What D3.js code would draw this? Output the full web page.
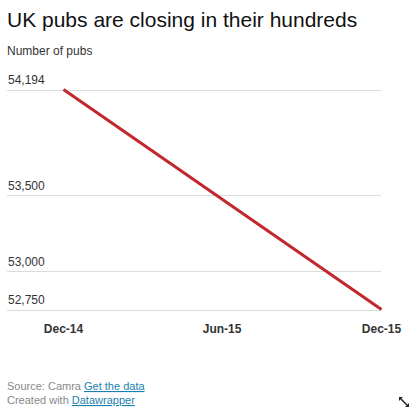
<!DOCTYPE html>
<html lang="en"><head><meta charset="UTF-8"><title>UK pubs are closing in their hundreds</title>
<script src="https://d3js.org/d3.v7.min.js"></script>
<style>
  body { margin: 0; background: #fff; font-family: "Liberation Sans", Arial, sans-serif; }
  svg { display: block; }
  .grid line { stroke: #dcdcdc; stroke-width: 1px; }
  .ylab { font-size: 12px; fill: #333; }
  .xlab { font-size: 12px; font-weight: bold; fill: #333; }
  .foot { font-size: 11px; fill: #888; }
  .foot .lnk { fill: #1a7fae; text-decoration: underline; }
</style></head>
<body><svg id="chart"></svg><script>
  const dates = ["2014-12-01", "2015-12-01"];
  const pubs = [54194, 52750];
  const yTicks = [54194, 53500, 53000, 52750];
  const xTicks = ["2014-12-01", "2015-06-01", "2015-12-01"];

  const width = 414, height = 415;
  const svg = d3.select("#chart").attr("width", width).attr("height", height);
  const parse = d3.timeParse("%Y-%m-%d");
  const fmtX = d3.timeFormat("%b-%y");
  const fmtY = d3.format(",");

  const x = d3.scaleTime().domain(d3.extent(dates, parse)).range([63.5, 381.5]);
  const y = d3.scaleLinear().domain([52750, 54194]).range([309.5, 89.5]);

  svg.append("text").attr("x", 7).attr("y", 27)
    .style("font-size", "21px").style("fill", "#111")
    .text("UK pubs are closing in their hundreds");
  svg.append("text").attr("x", 7).attr("y", 54.5)
    .style("font-size", "12px").style("fill", "#333")
    .text("Number of pubs");

  // grid + y labels
  const g = svg.append("g").attr("class", "grid");
  g.selectAll("line").data(yTicks).enter().append("line")
    .attr("x1", 7).attr("x2", 381)
    .attr("y1", d => Math.round(y(d)) + 0.5).attr("y2", d => Math.round(y(d)) + 0.5);
  svg.selectAll(".ylab").data(yTicks).enter().append("text")
    .attr("class", "ylab").attr("x", 8).attr("y", d => y(d) - 5.5)
    .text(d => fmtY(d));

  // x labels
  svg.selectAll(".xlab").data(xTicks).enter().append("text")
    .attr("class", "xlab").attr("text-anchor", "middle")
    .attr("x", d => x(parse(d))).attr("y", 333)
    .text(d => fmtX(parse(d)));

  // line
  const data = dates.map((d, i) => ({ date: parse(d), value: pubs[i] }));
  svg.append("path").datum(data)
    .attr("fill", "none").attr("stroke", "#c1272d").attr("stroke-width", 3)
    .attr("d", d3.line().x(d => x(d.date)).y(d => y(d.value)));

  // footer
  const f1 = svg.append("text").attr("class", "foot").attr("x", 7).attr("y", 390);
  f1.append("tspan").text("Source: Camra ");
  f1.append("tspan").attr("class", "lnk").text("Get the data");
  const f2 = svg.append("text").attr("class", "foot").attr("x", 7).attr("y", 404);
  f2.append("tspan").text("Created with ");
  f2.append("tspan").attr("class", "lnk").text("Datawrapper");

  // resize icon
  const ic = svg.append("g").attr("transform", "translate(404,402)")
    .attr("stroke", "#222").attr("fill", "#222");
  ic.append("line").attr("x1", -3).attr("y1", -3).attr("x2", 3).attr("y2", 3).attr("stroke-width", 1.5);
  ic.append("path").attr("d", "M-5,-5 L-1,-5 L-5,-1 Z").attr("stroke", "none");
  ic.append("path").attr("d", "M5,5 L1,5 L5,1 Z").attr("stroke", "none");
</script></body></html>
